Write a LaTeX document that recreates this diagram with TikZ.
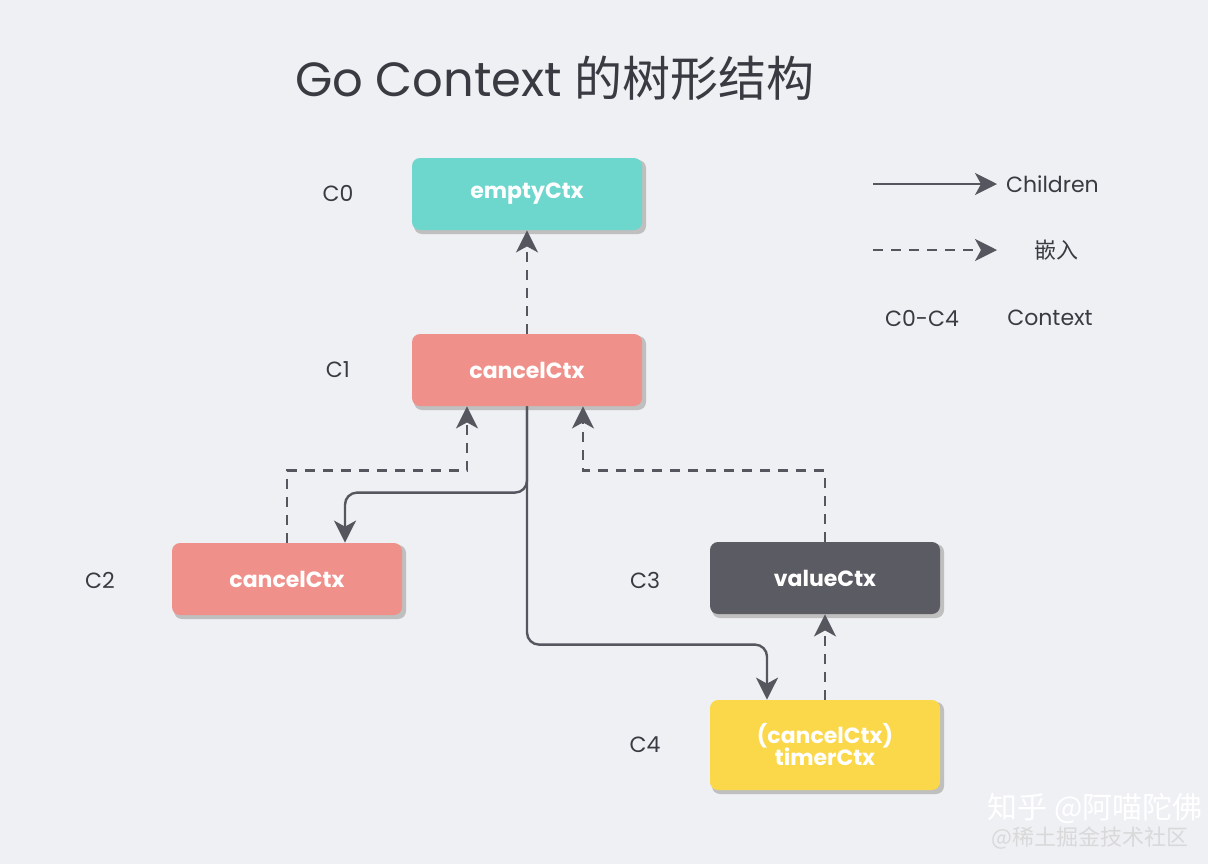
\documentclass[tikz,border=0pt]{standalone}
\usepackage{fontspec}
\setmainfont{Poppins}
\newfontfamily\cjk{Noto Sans CJK SC}
\usetikzlibrary{arrows.meta,calc}
\definecolor{bg}{HTML}{EEF0F4}
\definecolor{ln}{HTML}{55565E}
\definecolor{teal}{HTML}{6DD6CD}
\definecolor{salmon}{HTML}{F0908A}
\definecolor{dark}{HTML}{5A5B63}
\definecolor{yel}{HTML}{FAD84A}
\definecolor{txt}{HTML}{3A3B42}
\begin{document}
\begin{tikzpicture}[x=0.5pt,y=-0.5pt,
 box/.style={draw=none,rounded corners=4pt,minimum width=115pt,minimum height=36pt,text=white,font=\bfseries\fontsize{11}{13}\selectfont,align=center},
 lab/.style={text=txt,font=\fontsize{11}{13}\selectfont},
 arr/.style={ln,line width=1.2pt,-{Stealth[length=11pt,width=11pt,inset=3pt]}},
 dsh/.style={arr,dash pattern=on 5pt off 4pt},
 sol/.style={arr,rounded corners=6pt}]
\fill[bg] (0,0) rectangle (1208,864);
\useasboundingbox (0,0) rectangle (1208,864);
\node[text=txt,font=\fontsize{24}{28}\selectfont] (title) at (555,78) {Go Context {\cjk 的树形结构}};
\foreach \n/\x/\y/\c in {c0/527/194/teal,c1/527/370/salmon,c2/287/579/salmon,c3/825/578/dark}
  {\fill[black!25,rounded corners=4pt] (\x-113,\y-34) rectangle (\x+119,\y+40);}
\fill[black!25,rounded corners=4pt] (825-113,745-43) rectangle (825+119,745+49);
\node[box,fill=teal] (c0) at (527,194) {emptyCtx};
\node[box,fill=salmon] (c1) at (527,370) {cancelCtx};
\node[box,fill=salmon] (c2) at (287,579) {cancelCtx};
\node[box,fill=dark] (c3) at (825,578) {valueCtx};
\node[box,fill=yel,minimum height=45pt] (c4) at (825,745) {(cancelCtx)\\[-2pt]timerCtx};
\node[lab] (l0) at (338,193) {C0};
\node[lab] (l1) at (338,370) {C1};
\node[lab] (l2) at (100,580) {C2};
\node[lab] (l3) at (645,580) {C3};
\node[lab] (l4) at (645,745) {C4};
\draw[dsh] (c1.north) -- (c0.south);
\draw[dsh] (c2.north) |- ($(c1.south)+(-60,64)$) -- ($(c1.south)+(-60,0)$);
\draw[dsh] (c3.north) |- ($(c1.south)+(56,64)$) -- ($(c1.south)+(56,0)$);
\draw[dsh] (c4.north) -- (c3.south);
\draw[sol] (c1.south) |- ($(c2.north)+(58,-50)$) -- ($(c2.north)+(58,0)$);
\draw[sol] (c1.south) |- ($(c4.north)+(-58,-55)$) -- ($(c4.north)+(-58,0)$);
\coordinate (a1) at (873,184); \coordinate (a2) at (997,184);
\coordinate (b1) at (873,250); \coordinate (b2) at (997,250);
\draw[arr] (a1) -- (a2);
\draw[dsh] (b1) -- (b2);
\node[lab,anchor=west] (lc) at (999,184) {Children};
\node[lab,anchor=west] (le) at (1027,250) {\cjk 嵌入};
\node[lab] (lr) at (922,318) {C0-C4};
\node[lab] (lx) at (1050,318) {Context};
\node[text=white,font=\cjk\fontsize{15}{17}\selectfont] (w1) at (1095,808) {知乎 @阿喵陀佛};
\node[text=white!70!gray,font=\cjk\fontsize{11}{13}\selectfont] (w2) at (1090,838) {@稀土掘金技术社区};
\end{tikzpicture}
\end{document}
